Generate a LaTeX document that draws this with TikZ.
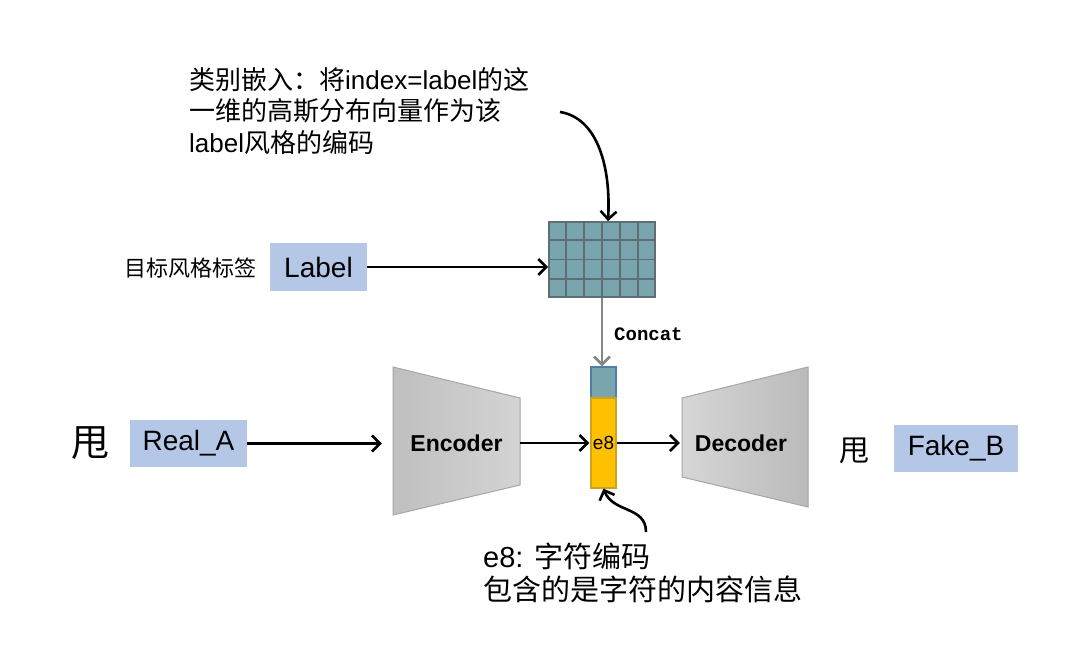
\documentclass[tikz,border=0pt]{standalone}
\usepackage{fontspec}
\setmainfont{Liberation Sans}
\setmonofont{Liberation Mono}
\newfontfamily\cjk{Noto Sans CJK SC}
\usetikzlibrary{arrows.meta,calc}
\definecolor{tealfill}{HTML}{78A5AE}
\definecolor{gridline}{HTML}{5E6E72}
\definecolor{boxblue}{HTML}{B4C7E7}
\definecolor{orangefill}{HTML}{FFC000}
\definecolor{orangeline}{HTML}{CFA21B}
\definecolor{topline}{HTML}{4F7EA8}
\definecolor{shapeline}{HTML}{A6A6A6}
\tikzset{
  arr/.style={draw=black, line width=2.6pt, -{Straight Barb[length=8pt,width=16pt]}},
  garr/.style={draw=gray!95, line width=2.6pt, -{Straight Barb[length=8pt,width=16pt]}},
  bluebox/.style={fill=boxblue, inner sep=0pt, font=\fontsize{28}{28}\selectfont},
  hidden/.style={inner sep=0pt, font=\bfseries\fontsize{23}{23}\selectfont},
  note/.style={inner sep=0pt, align=left, anchor=north west},
}
\begin{document}
\begin{tikzpicture}[x=1pt,y=-1pt]
\useasboundingbox[fill=white] (0,0) rectangle (1080,652);

% top note
\node[note, font=\fontsize{26}{31.5}\selectfont] (topnote) at (189,67)
  {{\cjk 类别嵌入：将}index=label{\cjk 的这}\\
   {\cjk 一维的高斯分布向量作为该}\\
   label{\cjk 风格的编码}};

% embedding grid
\node[fill=tealfill, draw=gridline, line width=1.8pt, minimum width=106, minimum height=75, inner sep=0pt] (grid) at (602,259.5) {};
\foreach \i in {1,...,5} {
  \draw[gridline, line width=1.8pt] ($(grid.north west)!\i/6!(grid.north east)$) -- ($(grid.south west)!\i/6!(grid.south east)$);
}
\foreach \j in {1,2,3} {
  \draw[gridline, line width=1.8pt] ($(grid.north west)!\j/4!(grid.south west)$) -- ($(grid.north east)!\j/4!(grid.south east)$);
}

% label
\node[inner sep=0pt, font=\cjk\fontsize{22}{22}\selectfont] (tgt) at (190,268) {目标风格标签};
\node[bluebox, minimum width=97, minimum height=48] (lab) at (318.5,267) {Label};

% encoder / decoder shapes
\shade[left color=black!25, right color=black!17, draw=shapeline, line width=1pt]
  (393,367) -- (520,398) -- (520,485) -- (393,515) -- cycle;
\shade[left color=black!16, right color=black!27, draw=shapeline, line width=1pt]
  (682,398) -- (808,367) -- (808,507) -- (682,477) -- cycle;
\node[hidden, minimum width=127, minimum height=148] (enc) at (456.5,443) {Encoder};
\node[hidden, minimum width=118, minimum height=140] (dec) at (741,443) {Decoder};

% e8 bar
\node[fill=tealfill, draw=topline, line width=1.3pt, minimum width=25, minimum height=31, inner sep=0pt] (e8top) at (603.5,382.5) {};
\node[fill=orangefill, draw=orangeline, line width=1.3pt, minimum width=25, minimum height=90, inner sep=0pt, font=\fontsize{19}{19}\selectfont] (e8) at (603.5,443) {e8};

% inputs / outputs
\node[inner sep=0pt, font=\cjk\fontsize{38}{38}\selectfont] (src) at (90,443) {甩};
\node[bluebox, minimum width=117, minimum height=47] (reala) at (188.5,443.5) {Real\_A};
\node[inner sep=0pt, font=\cjk\fontsize{30}{30}\selectfont] (dst) at (854,451) {甩};
\node[bluebox, minimum width=124, minimum height=47] (fakeb) at (956,448.5) {Fake\_B};

% concat label
\node[inner sep=0pt, anchor=west, font=\ttfamily\bfseries\fontsize{19}{19}\selectfont] (concat) at (614,334) {Concat};

% bottom note
\node[note, font=\fontsize{29}{33}\selectfont] (botnote) at (483,543)
  {e8: {\cjk 字符编码}\\
   {\cjk 包含的是字符的内容信息}};

% connectors
\coordinate (topstart) at (560,112);
\coordinate (botstart) at (646,532);
\draw[arr] (topstart) .. controls (598,118) and (611,168) .. (grid.north -| 608,0);
\draw[arr] (lab.east) -- (lab.east -| grid.west);
\draw[garr] (grid.south) -- (grid.south |- e8top.north);
\draw[arr, shorten >=11pt] (reala.east) -- (reala.east -| enc.west);
\draw[arr, shorten >=1pt] (enc.east) -- (e8.west);
\draw[arr, shorten >=2pt] (e8.east) -- (dec.west);
\draw[arr] (botstart) .. controls (646,506) and (613,513) .. (e8.south);
\end{tikzpicture}
\end{document}
